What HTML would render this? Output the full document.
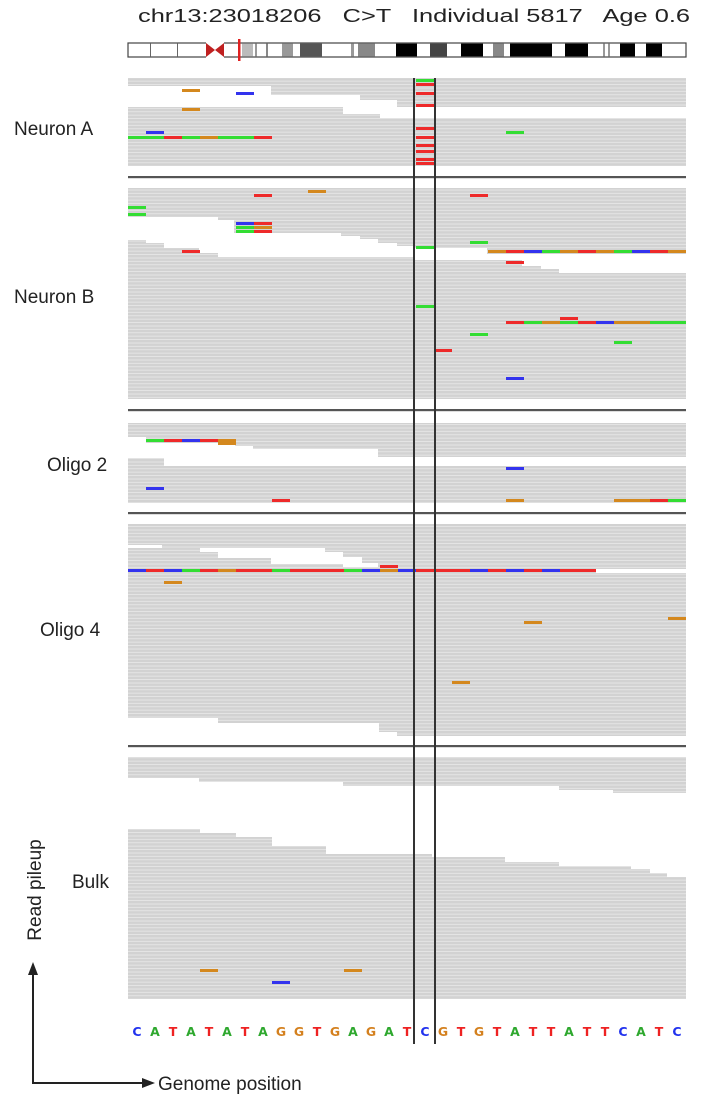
<!DOCTYPE html>
<html><head><meta charset="utf-8"><style>
html,body{margin:0;padding:0;background:#fff;}
svg{display:block;font-family:"Liberation Sans",Arial,sans-serif;}
</style></head><body>
<svg id="fig" width="720" height="1111" viewBox="0 0 720 1111" xmlns="http://www.w3.org/2000/svg">
<defs>
<pattern id="reads" width="8" height="3.4" patternUnits="userSpaceOnUse">
<rect width="8" height="3.4" fill="#d2d2d2"/><rect y="2.6" width="8" height="0.8" fill="#e9e9e9"/>
</pattern>
</defs>
<text x="138" y="22" font-size="18.5" fill="#222" textLength="552" lengthAdjust="spacingAndGlyphs" xml:space="preserve">chr13:23018206   C&gt;T   Individual 5817   Age 0.6</text>
<g id="ideo"></g>
<g id="pile"></g>
<g id="labels"></g>
<g id="seq"></g>
<g>
<line x1="33" y1="1083" x2="33" y2="972" stroke="#222" stroke-width="2"/>
<polygon points="33,962 28,975 38,975" fill="#222"/>
<line x1="32" y1="1083" x2="145" y2="1083" stroke="#222" stroke-width="2"/>
<polygon points="155,1083 142,1078 142,1088" fill="#222"/>
<text transform="translate(41,890) rotate(-90)" text-anchor="middle" font-size="19" fill="#222">Read pileup</text>
<text x="158" y="1090" font-size="19" fill="#222">Genome position</text>
</g>
</svg>
<script>
const refSeq = "CATATATAGGTGAGATCGTGTATTATTCATC".split("");
const sampleNames = ["Neuron A","Neuron B","Oligo 2","Oligo 4","Bulk"];
const variantCol = 16;
// mismatches per sample: [column, y, base]
const marksNeuronA = [[3,89,"G"],[6,92,"C"],[3,108,"G"],[1,131,"C"],[0,136,"A"],[1,136,"A"],[2,136,"T"],[3,136,"A"],[4,136,"G"],[5,136,"A"],[6,136,"A"],[7,136,"T"],[21,131,"A"],
 [16,79,"A"],[16,83,"T"],[16,92,"T"],[16,104,"T"],[16,127,"T"],[16,136,"T"],[16,144,"T"],[16,150,"T"],[16,158,"T"],[16,162,"T"]];
const marksNeuronB = [[7,194,"T"],[10,190,"G"],[19,194,"T"],[0,206,"A"],[0,213,"A"],[6,222,"C"],[6,226,"A"],[6,230,"A"],[7,222,"T"],[7,226,"G"],[7,230,"T"],
 [3,250,"T"],[16,246,"A"],[19,241,"A"],[20,250,"G"],[21,250,"T"],[22,250,"C"],[23,250,"A"],[24,250,"G"],[25,250,"T"],[26,250,"G"],[27,250,"A"],[28,250,"C"],[29,250,"T"],[30,250,"G"],
 [21,261,"T"],[16,305,"A"],[24,317,"T"],[21,321,"T"],[22,321,"A"],[23,321,"G"],[24,321,"A"],[25,321,"T"],[26,321,"C"],[27,321,"G"],[28,321,"G"],[29,321,"A"],[30,321,"A"],
 [19,333,"A"],[27,341,"A"],[17,349,"T"],[21,377,"C"]];
const marksOligo2 = [[1,439,"A"],[2,439,"T"],[3,439,"C"],[4,439,"T"],[5,439,"G"],[5,442,"G"],[21,467,"C"],[1,487,"C"],[8,499,"T"],[21,499,"G"],[27,499,"G"],[28,499,"G"],[29,499,"T"],[30,499,"A"]];
const oligo4RowBases = "CTCATGTTATTTACGCTTTCTCTCTT".split("");
const marksOligo4Extra = [[14,565,"T"],[2,581,"G"],[22,621,"G"],[30,617,"G"],[18,681,"G"]];
const marksBulk = [[4,969,"G"],[12,969,"G"],[8,981,"C"]];

const X0=128, CW=18;
const col = {A:"#33dd33",C:"#3333ee",G:"#d4881e",T:"#ee2a2a"};
const seqCol = {A:"#2ea82e",C:"#2233ee",G:"#d4801e",T:"#ee2222"};
const NS="http://www.w3.org/2000/svg";
function mk(tag,attrs,parent){const e=document.createElementNS(NS,tag);for(const k in attrs)e.setAttribute(k,attrs[k]);parent.appendChild(e);return e;}
const xOf = c => X0 + c*CW;

// ideogram
const ideo=document.getElementById('ideo');
mk('rect',{x:128,y:43,width:558,height:14,fill:'#fff',stroke:'#444','stroke-width':1.2},ideo);
[[150,1,'#666'],[177,1,'#666'],[242,11,'#bbb'],[255,2,'#999'],[266,2,'#888'],[282,11,'#999'],[300,22,'#555'],[351,3,'#999'],[358,17,'#888'],[396,21,'#000'],[430,17,'#444'],[461,22,'#000'],[493,11,'#888'],[510,42,'#000'],[565,23,'#000'],[603,2,'#999'],[608,2,'#999'],[620,15,'#000'],[646,16,'#000']].forEach(b=>mk('rect',{x:b[0],y:43.6,width:b[1],height:12.8,fill:b[2]},ideo));
mk('polygon',{points:'206,42 224,42 224,58 206,58',fill:'#fff'},ideo);
mk('polygon',{points:'206,43 215,50 206,57',fill:'#c02020'},ideo);
mk('polygon',{points:'224,43 215,50 224,57',fill:'#c02020'},ideo);
mk('rect',{x:238,y:39,width:2.5,height:22,fill:'#e02020'},ideo);

// pileup
const pile=document.getElementById('pile');
const grayBlocks=[[78,166],[188,399],[423,503],[524,736],[757,999]];
grayBlocks.forEach((b,i)=>{const r=mk('rect',{x:128,y:b[0],width:558,height:b[1]-b[0],fill:'url(#reads)'},pile);

});
const whites=[
"128,86 271,86 271,95 360,95 360,100 397,100 397,107 128,107",
"343,107 686,107 686,118 380,118 380,114 343,114",
"128,217 218,217 218,220 234,220 234,233 341,233 341,236 360,236 360,239 378,239 378,243 397,243 397,246 415,246 415,257 218,257 218,253 199,253 199,248 164,248 164,243 146,243 146,240 128,240",
"415,248 487,248 487,254 686,254 686,273 559,273 559,269 541,269 541,266 522,266 522,260 415,260",
"128,437 146,437 146,443 235,443 235,446 253,446 253,449 378,449 378,457 686,457 686,466 164,466 164,458 128,458",
"128,545 162,545 162,548 128,548",
"200,548 325,548 325,552 343,552 343,557 362,557 362,563 378,563 378,567 343,567 343,564 271,564 271,558 218,558 218,552 200,552",
"596,569 686,569 686,573 596,573",
"128,718 218,718 218,723 379,723 379,732 397,732 397,737 128,737",
"199,778 686,778 686,830 128,830 128,778 199,778 199,782 343,782 343,786 559,786 559,790 613,790 613,793 686,793 686,778",
"128,829 686,829 686,877 667,877 667,873 650,873 650,869 631,869 631,866 559,866 559,862 505,862 505,857 432,857 432,854 326,854 326,846 272,846 272,837 236,837 236,833 200,833 200,829"
];
whites.forEach(p=>mk('polygon',{points:p,fill:'#fff'},pile));
// fix bulk top: redraw gray top block
[[757,778,128],[778,782,199],[782,786,343],[786,790,559],[790,793,613]].forEach(b=>mk('rect',{x:b[2],y:b[0],width:686-b[2],height:b[1]-b[0],fill:'url(#reads)'},pile));
// bulk lower stair reads
[[829,200],[833,236],[837,272],[846,326],[854,432],[857,505],[862,559],[866,631],[869,650],[873,667]].forEach((s,i,a)=>{const y1=i<a.length-1?a[i+1][0]:877;mk('rect',{x:128,y:s[0],width:s[1]-128,height:y1-s[0],fill:'url(#reads)'},pile);});

function drawMarks(list,name){list.forEach(m=>{const r=mk('rect',{x:xOf(m[0]),y:m[1],width:CW,height:3,fill:col[m[2]]},pile);

});}
drawMarks(marksNeuronA,'neuron-a');
drawMarks(marksNeuronB,'neuron-b');
drawMarks(marksOligo2,'oligo-2');
drawMarks(oligo4RowBases.map((b,i)=>[i,569,b]),'oligo-4');
drawMarks(marksOligo4Extra,'oligo-4');
drawMarks(marksBulk,'bulk');

// separators
[177,410,513,746].forEach(y=>{const l=mk('rect',{x:128,y:y-1,width:558,height:2.2,fill:'#555'},pile);

});
// variant column box
[xOf(variantCol)-2,xOf(variantCol+1)+1].forEach(x=>{const l=mk('rect',{x:x-1,y:78,width:2,height:966,fill:'#333'},pile);

});

// labels
const labels=document.getElementById('labels');
const labelPos=[[14,135],[14,303],[47,471],[40,636],[72,888]];
sampleNames.forEach((n,i)=>{const t=mk('text',{x:labelPos[i][0],y:labelPos[i][1],'font-size':19,fill:'#222'},labels);t.textContent=n;

});

// sequence
const seq=document.getElementById('seq');
refSeq.forEach((b,i)=>{const t=mk('text',{x:xOf(i)+CW/2,y:1036,'text-anchor':'middle','font-size':12.5,'font-weight':'bold','font-family':'DejaVu Sans, sans-serif',fill:seqCol[b]},seq);t.textContent=b;

});
</script>
</body></html>
